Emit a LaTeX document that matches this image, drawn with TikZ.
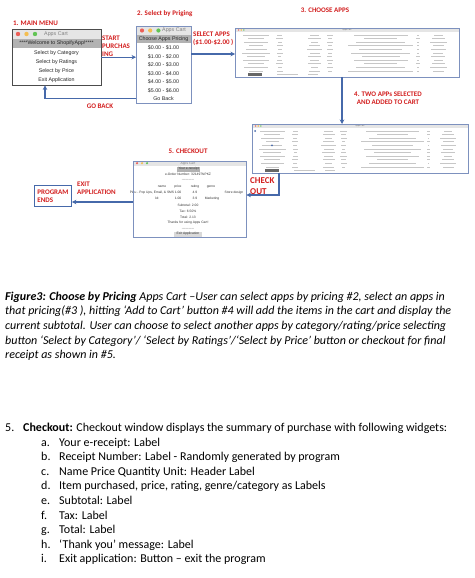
\documentclass[tikz,border=0pt]{standalone}
\usepackage{fontspec}
\setmainfont{Carlito}
\newfontfamily\uifont{Liberation Sans}
\usetikzlibrary{positioning, arrows.meta, calc}

\definecolor{tagred}{RGB}{210,30,30}
\definecolor{flowblue}{RGB}{70,105,170}
\definecolor{frameblue}{RGB}{125,145,190}
\definecolor{dotred}{RGB}{236,95,87}
\definecolor{dotyellow}{RGB}{244,190,80}
\definecolor{dotgreen}{RGB}{98,196,84}

\begin{document}
\begin{tikzpicture}[
    x=1pt, y=-1pt,
    redtag/.style={text=tagred, font=\fontsize{7}{8}\selectfont\bfseries, inner sep=0pt, align=left},
    win/.style={fill=white, inner sep=0pt, anchor=north west},
    winframe/.style={draw=frameblue, line width=0.7pt},
    titlebar/.style={fill=black!10},
    headbar/.style={fill=black!30},
    ui/.style={font=\uifont\fontsize{5.3}{6}\selectfont, text=black!85, inner sep=0pt},
    rcpt/.style={font=\uifont\fontsize{3.3}{4}\selectfont, text=black!80, inner sep=0pt},
    flow/.style={draw=flowblue, line width=1.1pt, -{Stealth[length=4.5pt,width=4.5pt]}},
    captext/.style={font=\fontsize{12}{14}\selectfont, inner sep=0pt, anchor=base west},
]
\useasboundingbox (0,0) rectangle (474,578);

% 1. main menu window
\node[win, minimum width=89pt, minimum height=56pt] (menu) at (12,29) {};
\fill[titlebar] (12,29) rectangle (101,39);
\fill[headbar] (12,39) rectangle (101,48);
\foreach \c [count=\i] in {dotred,dotyellow,dotgreen}
    \fill[\c] (9.5+8.5*\i,34) circle (2.2);
\node[ui, text=black!50] (menutitle) at (56,34) {Apps Cart};
\node[ui] (welcome) at (56.5,43.5) {****Welcome to ShopifyApp!****};
\foreach \txt [count=\i] in {Select by Category, Select by Ratings, Select by Price, Exit Application}
    \node[ui] (menu\i) at (56.5,44+9*\i) {\txt};
\draw[line width=0.9pt, draw=black!70] (menu.north west) rectangle (menu.south east);

% 2. pricing window
\node[win, minimum width=55pt, minimum height=77pt] (pricing) at (136,26) {};
\fill[titlebar] (136,26) rectangle (191,35);
\fill[headbar] (136,35) rectangle (191,43);
\foreach \c [count=\i] in {dotred,dotyellow,dotgreen}
    \fill[\c] (133.8+8.2*\i,30.5) circle (2.1);
\node[ui, text=black!50] (pricetitle) at (174,30.5) {Apps Cart};
\node[ui] (pricehead) at (163.5,39) {Choose Apps Pricing};
\foreach \txt [count=\i] in {\$0.00 - \$1.00, \$1.00 - \$2.00, \$2.00 - \$3.00, \$3.00 - \$4.00, \$4.00 - \$5.00, \$5.00 - \$6.00, Go Back}
    \node[ui] (price\i) at (163.5,{48+8.45*(\i-1)}) {\txt};
\draw[winframe] (pricing.north west) rectangle (pricing.south east);

% 3./4. app list windows (unreadable rows as grey bars)
\foreach \wx/\wy/\ww/\wn in {235/28/224/applist, 252/124/216/cartlist} {
    \node[win, minimum width=\ww pt, minimum height=48.5pt] (\wn) at (\wx,\wy) {};
    \fill[titlebar] (\wx,\wy) rectangle (\wx+\ww,\wy+4);
    \foreach \c [count=\i] in {dotred,dotyellow,dotgreen}
        \fill[\c] (\wx+1+2.6*\i,\wy+2) circle (0.8);
    \node[font=\uifont\fontsize{2}{2}\selectfont, text=black!60, inner sep=0pt] (\wn title) at (\wx+\ww/2,\wy+2) {Apps Cart};
    \foreach \r in {0,...,10}
        \foreach \c/\cx/\cw in {1/0.094/0.125, 2/0.2/0.03, 3/0.355/0.067, 4/0.424/0.03, 5/0.65/0.29, 6/0.817/0.015, 7/0.908/0.076} {
            \pgfmathsetmacro\f{0.5+0.5*mod(\r*3+\c*5,7)/6}
            \fill[black!22] ({\wx+\ww*(\cx-\cw*\f/2)},{\wy+7+3.6*\r-0.4}) rectangle ({\wx+\ww*(\cx+\cw*\f/2)},{\wy+7+3.6*\r+0.4});
        }
    \fill[black!60] (\wx+13,\wy+45) rectangle (\wx+27,\wy+48);
    \fill[black!22] (\wx+42,\wy+46.1) rectangle (\wx+63,\wy+46.9);
    \fill[black!22] (\wx+73,\wy+46.1) rectangle (\wx+83,\wy+46.9);
    \draw[winframe] (\wn.north west) rectangle (\wn.south east);
}
\fill[flowblue] (255,131) circle (1);
\fill[flowblue] (272,145.4) circle (1);

% 5. checkout window
\node[win, minimum width=113pt, minimum height=76pt] (checkout) at (133,161) {};
\fill[titlebar] (133,161) rectangle (246,165.5);
\foreach \c [count=\i] in {dotred,dotyellow,dotgreen}
    \fill[\c] (132+5*\i,163.2) circle (1.2);
\node[rcpt, text=black!50] (chktitle) at (188,163.2) {Apps Cart};
\fill[black!30] (177,166.5) rectangle (200,171.5);
\node[rcpt] (ereceipt) at (188.5,169) {Your e-receipt};
\node[rcpt] (ordernum) at (188,174.5) {e-Order Number: 321497NPKZ};
\node[rcpt] (rule1) at (188,180) {-----------};
\node[rcpt] (hname) at (162,186.5) {name};
\node[rcpt] (hprice) at (178,186.5) {price};
\node[rcpt] (hrating) at (195,186.5) {rating};
\node[rcpt] (hgenre) at (211,186.5) {genre};
\node[rcpt] (aname) at (152,192.5) {Pinu - Pop Ups, Email, \& SMS};
\node[rcpt] (aprice) at (178,192.5) {1.00};
\node[rcpt] (arating) at (195,192.5) {4.9};
\node[rcpt] (agenre) at (234,192.5) {Store design};
\node[rcpt] (bname) at (157,198.5) {kit};
\node[rcpt] (bprice) at (178,198.5) {1.00};
\node[rcpt] (brating) at (195,198.5) {3.9};
\node[rcpt] (bgenre) at (212,198.5) {Marketing};
\node[rcpt] (subtotal) at (188,205) {Subtotal: 2.00};
\node[rcpt] (tax) at (188,211) {Tax: 6.50\%};
\node[rcpt] (total) at (188,217) {Total: 2.13};
\node[rcpt] (thanks) at (188,223) {Thanks for using Apps Cart!};
\node[rcpt] (rule2) at (188,228.5) {-----------};
\fill[black!15] (174,231.5) rectangle (202,236.5);
\node[rcpt] (exitbtn) at (188,234) {Exit Application};
\draw[winframe] (checkout.north west) rectangle (checkout.south east);

% end box
\node[redtag, draw=flowblue, line width=0.9pt, text width=31pt, inner sep=3pt,
      minimum height=21pt, anchor=north west] (ends) at (34,185) {PROGRAM\\ENDS};

% red step labels
\node[redtag, anchor=west] (lblmenu) at (13,23.5) {1. MAIN MENU};
\node[redtag, anchor=west] (lblprice) at (137,14) {2. Select by Priging};
\node[redtag] (lblchoose) at (325,10) {3. CHOOSE APPS};
\node[redtag, align=center] (lbladded) at (388,98.5) {4. TWO APPs SELECTED\\AND ADDED TO CART};
\node[redtag] (lblcheckout) at (188,151) {5. CHECKOUT};
\node[redtag, anchor=west] (lblstart) at (102,46) {START\\PURCHAS\\ING};
\node[redtag, anchor=west] (lblselect) at (193,39) {SELECT APPS\\(\$1.00-\$2.00 )};
\node[redtag] (lblgoback) at (100,106) {GO BACK};
\node[redtag, anchor=west] (lblexit) at (77,188.5) {EXIT\\APPLICATION};
\node[redtag, font=\fontsize{9}{10.5}\selectfont\bfseries, anchor=west] (lblcheck) at (250,186) {CHECK\\OUT};

% flow arrows
\draw[flow] (menu.east) -- (menu.east -| pricing.west);
\draw[flow] ($(pricing.south west)+(0,-4.5)$) -| ($(menu.south west)+(33,0)$);
\coordinate (selfrom) at ($(pricing.north east)+(0,28)$);
\draw[flow] (selfrom) -- (selfrom -| applist.west);
\coordinate (addfrom) at ($(applist.south west)+(107,0)$);
\draw[flow] (addfrom) -- (addfrom |- cartlist.north);
\coordinate (chkfrom) at ($(cartlist.south west)+(27,0)$);
\coordinate (chkto) at ($(checkout.north east)+(0,34)$);
\draw[flow] (chkfrom) |- (chkto);
\coordinate (exitfrom) at ($(checkout.north west)+(0,41)$);
\draw[flow] (exitfrom) -- (exitfrom -| ends.east);

% caption
\foreach \txt [count=\i] in {
    {{\bfseries Figure3: Choose by Pricing} Apps Cart –User can select apps by pricing \#2, select an apps in},
    {that pricing(\#3 ), hitting ‘Add to Cart’ button \#4 will add the items in the cart and display the},
    {current subtotal. User can choose to select another apps by category/rating/price selecting},
    {button ‘Select by Category’/ ‘Select by Ratings’/‘Select by Price’ button or checkout for final},
    {receipt as shown in \#5.}}
    \node[captext] (cap\i) at (5,{300+14.7*(\i-1)}) {\itshape\txt};

% checkout widget list
\node[captext] (sec5) at (5,431.5) {5.};
\node[captext] (sec5text) at (23,431.5) {\textbf{Checkout:} Checkout window displays the summary of purchase with following widgets:};
\foreach \l/\txt [count=\i] in {a/{Your e-receipt: Label},
    b/{Receipt Number: Label - Randomly generated by program},
    c/{Name Price Quantity Unit: Header Label},
    d/{Item purchased, price, rating, genre/category as Labels},
    e/{Subtotal: Label}, f/{Tax: Label}, g/{Total: Label},
    h/{‘Thank you’ message: Label},
    i/{Exit application: Button – exit the program}} {
    \node[captext] (item\l) at (41,{431.5+14.6*\i}) {\l.};
    \node[captext] (itemtext\l) at (59,{431.5+14.6*\i}) {\txt};
}
\end{tikzpicture}
\end{document}
